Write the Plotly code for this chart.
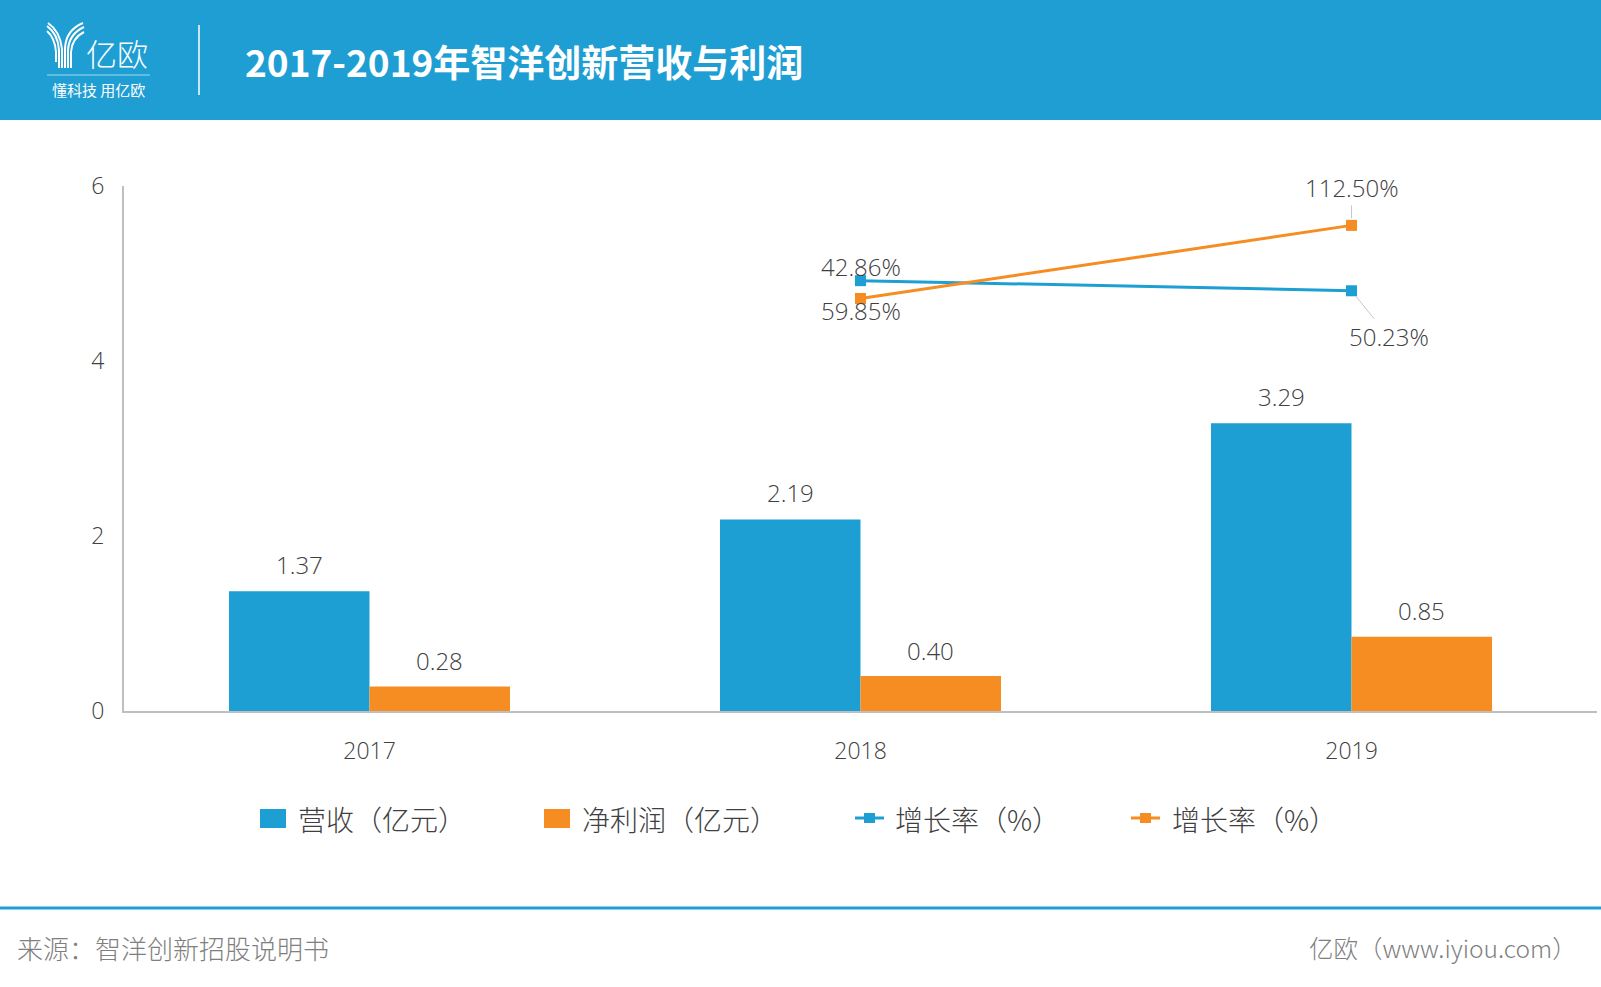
import plotly.graph_objects as go

# ---------------- data ----------------
years = ["2017", "2018", "2019"]
revenue = [1.37, 2.19, 3.29]          # 营收（亿元）
net_profit = [0.28, 0.40, 0.85]       # 净利润（亿元）
growth_years = ["2018", "2019"]
revenue_growth = [59.85, 50.23]       # 增长率（%） 营收
profit_growth = [42.86, 112.50]       # 增长率（%） 净利润
series_names = ["营收（亿元）", "净利润（亿元）", "增长率（%）", "增长率（%）"]
y_ticks = [0, 2, 4, 6]

title_text = "2017-2019年智洋创新营收与利润"
source_text = "来源：智洋创新招股说明书"
brand_text = "亿欧（www.iyiou.com）"

# ---------------- style ----------------
W, H = 1601, 987
L, R, T, B = 124, 4, 186, 276
PW, PH = W - L - R, H - T - B
BLUE = "#1E9FD3"
ORANGE = "#F58D22"
TXT = "#404040"
GRAY = "#7F7F7F"
AXIS = "#BFBFBF"
NUMFONT = "Open Sans, Noto Sans CJK SC, sans-serif"
CJK = "Noto Sans CJK SC, Open Sans, sans-serif"
BARGAP = 0.4277


def px(x):
    return (x - L) / PW


def py(y):
    return 1 - (y - T) / PH


fig = go.Figure()
fig.add_trace(go.Bar(x=years, y=revenue, name=series_names[0], marker_color=BLUE,
                     marker_line_width=0, showlegend=False))
fig.add_trace(go.Bar(x=years, y=net_profit, name=series_names[1], marker_color=ORANGE,
                     marker_line_width=0, showlegend=False))
fig.add_trace(go.Scatter(x=growth_years, y=revenue_growth, name=series_names[2], yaxis="y2",
                         mode="lines+markers", line=dict(color=BLUE, width=3),
                         marker=dict(symbol="square", size=11, color=BLUE), showlegend=False))
fig.add_trace(go.Scatter(x=growth_years, y=profit_growth, name=series_names[3], yaxis="y2",
                         mode="lines+markers", line=dict(color=ORANGE, width=3),
                         marker=dict(symbol="square", size=11, color=ORANGE), showlegend=False))

annotations = []
shapes = []

# bar value labels
off = (1 - BARGAP) / 4
val_font = dict(family=NUMFONT, size=24, color=TXT, weight=300)
for i, v in enumerate(revenue):
    annotations.append(dict(x=i - off, y=v, xref="x", yref="y", text=f"{v:.2f}", showarrow=False,
                            yanchor="middle", yshift=27, font=val_font))
for i, v in enumerate(net_profit):
    annotations.append(dict(x=i + off, y=v, xref="x", yref="y", text=f"{v:.2f}", showarrow=False,
                            yanchor="middle", yshift=26, font=val_font))

# growth labels (placement as in the reference)
gx = [years.index(g) for g in growth_years]
lab_font = dict(family=NUMFONT, size=24, color=TXT, weight=300)
annotations.append(dict(x=gx[0], y=profit_growth[0], xref="x", yref="y2",
                        text=f"{profit_growth[0]:.2f}%", showarrow=False, yshift=32, font=lab_font))
annotations.append(dict(x=gx[0], y=revenue_growth[0], xref="x", yref="y2",
                        text=f"{revenue_growth[0]:.2f}%", showarrow=False, yshift=-30, font=lab_font))
annotations.append(dict(x=gx[1], y=profit_growth[1], xref="x", yref="y2",
                        text=f"{profit_growth[1]:.2f}%", showarrow=True, ax=0, ay=-38,
                        arrowhead=0, arrowwidth=1, arrowcolor="#C8C8C8", standoff=7, font=lab_font))
annotations.append(dict(x=gx[1], y=revenue_growth[1], xref="x", yref="y2",
                        text=f"{revenue_growth[1]:.2f}%", showarrow=True, ax=37, ay=46,
                        arrowhead=0, arrowwidth=1, arrowcolor="#C8C8C8", standoff=7, font=lab_font))

# header band
shapes.append(dict(type="rect", xref="paper", yref="paper", x0=px(0), x1=px(W), y0=py(120), y1=py(0),
                   fillcolor="#1E9ED2", line_width=0, layer="below"))
# separator
shapes.append(dict(type="line", xref="paper", yref="paper", x0=px(199), x1=px(199), y0=py(25), y1=py(95),
                   line=dict(color="white", width=1.5)))
# logo underline
shapes.append(dict(type="line", xref="paper", yref="paper", x0=px(47), x1=px(150), y0=py(75), y1=py(75),
                   line=dict(color="rgba(255,255,255,0.6)", width=1)))


def path_px(pts):
    s = ""
    for cmd, coords in pts:
        s += cmd + " " + " ".join(f"{px(a):.5f},{py(b):.5f}" for a, b in coords) + " "
    return s


# stylised "Y" logo icon
logo_paths = [
    [("M", [(59, 68)]), ("L", [(59, 50)]), ("Q", [(58, 34), (47, 26)])],
    [("M", [(62, 68)]), ("L", [(62, 49)]), ("Q", [(60, 31), (48, 23)])],
    [("M", [(65, 68)]), ("L", [(65, 48)]), ("Q", [(66, 30), (83, 23)])],
    [("M", [(68, 68)]), ("L", [(68, 50)]), ("Q", [(69, 34), (84, 27)])],
    [("M", [(71, 68)]), ("L", [(71, 52)]), ("Q", [(72, 38), (84, 32)])],
    [("M", [(56, 62)]), ("L", [(56, 52)]), ("Q", [(55, 38), (47, 31)])],
]
for p in logo_paths:
    shapes.append(dict(type="path", xref="paper", yref="paper", path=path_px(p),
                       line=dict(color="white", width=2)))

annotations.append(dict(x=px(84), y=py(53), xref="paper", yref="paper", xanchor="left", yanchor="middle",
                        text="亿欧", showarrow=False,
                        font=dict(family=CJK, size=31, color="white", weight=300)))
annotations.append(dict(x=px(98), y=py(89), xref="paper", yref="paper", xanchor="center", yanchor="middle",
                        text="懂科技 用亿欧", showarrow=False,
                        font=dict(family=CJK, size=15, color="white")))
# title
annotations.append(dict(x=px(243), y=py(61), xref="paper", yref="paper", xanchor="left", yanchor="middle",
                        text=f"<b>{title_text}</b>", showarrow=False,
                        font=dict(family=CJK, size=37, color="white")))

# footer
shapes.append(dict(type="line", xref="paper", yref="paper", x0=px(0), x1=px(W), y0=py(908), y1=py(908),
                   line=dict(color="#1E9ED2", width=3)))
annotations.append(dict(x=px(15), y=py(947), xref="paper", yref="paper", xanchor="left", yanchor="middle",
                        text=source_text, showarrow=False,
                        font=dict(family=CJK, size=26, color=GRAY, weight=300)))
annotations.append(dict(x=px(1579), y=py(947), xref="paper", yref="paper", xanchor="right", yanchor="middle",
                        text=brand_text, showarrow=False,
                        font=dict(family=CJK, size=24.5, color=GRAY, weight=300)))

# custom legend
leg_y = 818
leg_items = [
    ("bar", BLUE, 260, 296),
    ("bar", ORANGE, 544, 580),
    ("line", BLUE, 855, 893),
    ("line", ORANGE, 1131, 1170),
]
for (kind, col, sx, tx), name in zip(leg_items, series_names):
    if kind == "bar":
        shapes.append(dict(type="rect", xref="paper", yref="paper", x0=px(sx), x1=px(sx + 26),
                           y0=py(leg_y + 10), y1=py(leg_y - 9), fillcolor=col, line_width=0))
    else:
        shapes.append(dict(type="line", xref="paper", yref="paper", x0=px(sx), x1=px(sx + 29),
                           y0=py(leg_y), y1=py(leg_y), line=dict(color=col, width=3)))
        shapes.append(dict(type="rect", xref="paper", yref="paper", x0=px(sx + 9), x1=px(sx + 20),
                           y0=py(leg_y + 5), y1=py(leg_y - 5), fillcolor=col, line_width=0))
    annotations.append(dict(x=px(tx), y=py(leg_y + 1), xref="paper", yref="paper", xanchor="left",
                            yanchor="middle", text=name, showarrow=False,
                            font=dict(family=CJK, size=28, color=TXT, weight=300)))

fig.update_layout(
    width=W, height=H,
    margin=dict(l=L, r=R, t=T, b=B, pad=0),
    paper_bgcolor="white", plot_bgcolor="white",
    barmode="group", bargap=BARGAP, bargroupgap=0,
    showlegend=False,
    xaxis=dict(type="category", range=[-0.5, len(years) - 0.5], autorange=False,
               showgrid=False, zeroline=False, showline=True, linecolor=AXIS, linewidth=2,
               ticks="", tickfont=dict(family=NUMFONT, size=23, color=TXT, weight=300),
               ticklabelstandoff=18),
    yaxis=dict(range=[0, 6], autorange=False, tickvals=y_ticks, showgrid=False, zeroline=False,
               showline=True, linecolor=AXIS, linewidth=2, ticks="",
               tickfont=dict(family=NUMFONT, size=23, color=TXT, weight=300), ticklabelstandoff=13),
    yaxis2=dict(range=[-350, 150], autorange=False, overlaying="y", side="right", visible=False),
    annotations=annotations,
    shapes=shapes,
)

fig.write_html("out.html")
